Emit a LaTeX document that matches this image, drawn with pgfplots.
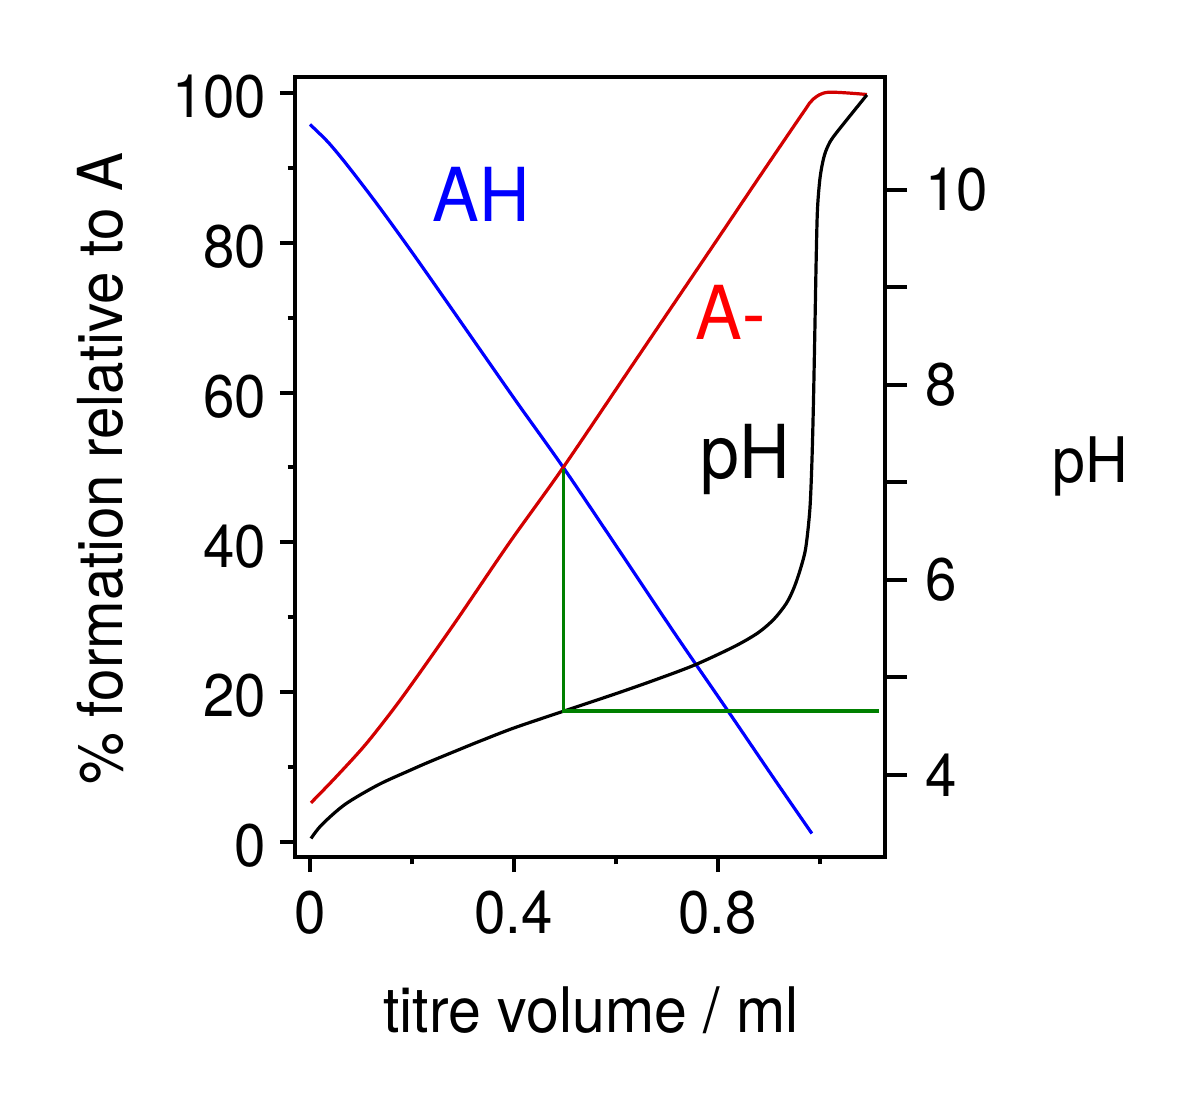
\documentclass[border=0pt]{standalone}
\usepackage{fontspec}
\setmainfont{TeX Gyre Heros}[FakeStretch=0.94]
\usepackage{pgfplots}
\pgfplotsset{compat=1.18}
\definecolor{curvered}{RGB}{210,0,0}
\definecolor{dgreen}{RGB}{0,128,0}
\definecolor{lblred}{RGB}{255,0,0}
\definecolor{lblblue}{RGB}{0,0,255}

\pgfplotstableread{
x y
0.000 95.8
0.036 93.4
0.075 90.2
0.134 84.95
0.200 78.75
0.265 72.45
0.329 66.2
0.407 58.6
0.497 50.0
0.601 39.5
0.717 27.7
0.818 17.7
0.911 8.4
0.985 1.1
}\AH

\pgfplotstableread{
x y
0.002 5.2
0.049 8.5
0.108 12.9
0.167 18.0
0.219 22.9
0.290 29.8
0.391 39.9
0.497 50.0
0.640 64.4
0.795 80.0
0.883 88.9
0.968 97.4
0.988 99.2
1.017 100.1
1.093 99.8
}\Aminus

\pgfplotstableread{
x y
0.002 3.35
0.023 3.49
0.069 3.70
0.134 3.90
0.197 4.05
0.232 4.13
0.290 4.255
0.330 4.34
0.399 4.48
0.498 4.655
0.601 4.835
0.680 4.98
0.756 5.13
0.834 5.32
0.880 5.46
0.911 5.60
0.935 5.76
0.950 5.92
0.963 6.12
0.973 6.33
0.981 6.72
0.985 7.20
0.988 7.80
0.991 8.60
0.9935 9.30
0.996 9.80
1.001 10.12
1.008 10.32
1.016 10.44
1.030 10.56
1.093 10.97
}\pH

\begin{document}
\begin{tikzpicture}
\useasboundingbox (0,0) rectangle (300pt,276.25pt);
\begin{axis}[
  at={(73.65pt,61.925pt)}, anchor=south west,
  scale only axis, width=147.6pt, height=195pt,
  xmin=-0.0302, xmax=1.1285, ymin=-2.08, ymax=102.1,
  xtick={0,0.4,0.8}, xticklabels={0,0.4,0.8},
  minor xtick={0.2,0.6,1.0},
  ytick={0,20,40,60,80,100},
  minor ytick={10,30,50,70,90},
  xtick pos=left, ytick pos=left,
  tick align=outside,
  major tick length=3.7pt, minor tick length=1.75pt,
  axis line style={line width=1pt},
  every tick/.append style={line width=1pt, black},
  /pgf/number format/assume math mode=true,
  tick label style={font=\fontsize{15}{17}\selectfont},
  yticklabel style={inner sep=0pt, xshift=-3.2pt, yshift=-1pt},
  xticklabel style={inner sep=0pt, yshift=-4.5pt},
]
\addplot[color=lblblue, line width=0.8pt, smooth, tension=0.5] table {\AH};
\addplot[color=curvered, line width=0.8pt, smooth, tension=0.5] table {\Aminus};
\node[anchor=base west, inner sep=0pt, text=lblblue, font=\fontsize{18.6}{20}\selectfont] at (axis cs:0.239,82.84) {AH};
\node[anchor=base west, inner sep=0pt, text=lblred, font=\fontsize{18.6}{20}\selectfont] at (axis cs:0.756,67.04) {A-};
\node[anchor=base west, inner sep=0pt, text=black, font=\fontsize{18.6}{20}\selectfont] at (axis cs:0.765,48.56) {pH};
\end{axis}
\begin{axis}[
  at={(73.65pt,61.925pt)}, anchor=south west,
  scale only axis, width=147.6pt, height=195pt,
  xmin=-0.0302, xmax=1.1285, ymin=3.157, ymax=11.15,
  hide x axis,
  axis y line*=right,
  ytick={4,5,6,7,8,9,10}, yticklabels={4,,6,,8,,10},
  tick align=outside,
  major tick length=5.5pt,
  axis line style={line width=1pt},
  every tick/.append style={line width=1pt, black},
  /pgf/number format/assume math mode=true,
  tick label style={font=\fontsize{15}{17}\selectfont},
  yticklabel style={inner sep=0pt, xshift=4.35pt},
]
\addplot[color=black, line width=0.8pt, smooth, tension=0.5] table {\pH};
\addplot[color=dgreen, line width=0.8pt] coordinates {(0.4975,7.14) (0.4975,4.656) (1.117,4.656)};
\end{axis}
\node[rotate=90, anchor=base, font=\fontsize{15.5}{17}\selectfont] at (30.5pt,159pt) {\% formation relative to A};
\node[anchor=base, font=\fontsize{15.7}{17}\selectfont] at (147.75pt,18.1pt) {titre volume / ml};
\node[anchor=base, font=\fontsize{15.7}{17}\selectfont] at (272.6pt,155.7pt) {pH};
\end{tikzpicture}
\end{document}
